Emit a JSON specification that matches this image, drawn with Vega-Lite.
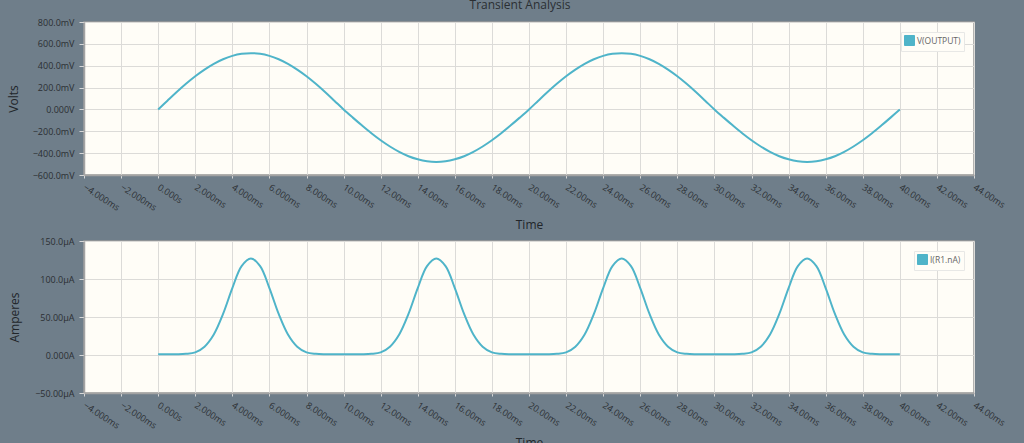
{
  "$schema": "https://vega.github.io/schema/vega-lite/v6.json",
  "autosize": {"type": "none"},
  "padding": {"left": 84, "top": 22, "right": 940, "bottom": 421},
  "background": "#6f7e8a",
  "bounds": "flush",
  "spacing": 66,
  "config": {
    "font": "Open Sans",
    "view": {"fill": "#fffdf7", "stroke": "#9a9a9a", "strokeWidth": 1.5},
    "axis": {
      "labelFont": "Open Sans",
      "labelFontSize": 9,
      "labelColor": "#2b2f33",
      "titleFont": "Open Sans",
      "titleFontSize": 12,
      "titleFontWeight": "normal",
      "titleColor": "#22262a",
      "gridColor": "#dcdbd8",
      "gridOpacity": 1,
      "gridWidth": 1,
      "domainColor": "#a3a3a3",
      "domainWidth": 1.5,
      "tickColor": "#d8d8d8"
    },
    "legend": {
      "orient": "top-right",
      "offset": 10,
      "title": null,
      "fillColor": "#fffdf7",
      "strokeColor": "#e8e8e6",
      "padding": 3,
      "symbolType": "square",
      "symbolSize": 100,
      "symbolFillColor": "#4fb4c9",
      "symbolStrokeColor": "#dddddd",
      "symbolStrokeWidth": 1,
      "symbolOpacity": 1,
      "labelFont": "Open Sans",
      "labelFontSize": 8.5,
      "labelColor": "#666666",
      "labelOffset": 2
    }
  },
  "datasets": {
    "voltage": [
      {"t": 0, "v": 0, "s": "V(OUTPUT)"}, {"t": 0.5, "v": 80, "s": "V(OUTPUT)"}, {"t": 1, "v": 159, "s": "V(OUTPUT)"}, {"t": 1.5, "v": 234, "s": "V(OUTPUT)"}, {"t": 2, "v": 303, "s": "V(OUTPUT)"}, {"t": 2.5, "v": 364, "s": "V(OUTPUT)"}, {"t": 3, "v": 417, "s": "V(OUTPUT)"}, {"t": 3.5, "v": 459, "s": "V(OUTPUT)"}, {"t": 4, "v": 490, "s": "V(OUTPUT)"}, {"t": 4.5, "v": 509, "s": "V(OUTPUT)"},
      {"t": 5, "v": 515, "s": "V(OUTPUT)"}, {"t": 5.5, "v": 509, "s": "V(OUTPUT)"}, {"t": 6, "v": 490, "s": "V(OUTPUT)"}, {"t": 6.5, "v": 459, "s": "V(OUTPUT)"}, {"t": 7, "v": 417, "s": "V(OUTPUT)"}, {"t": 7.5, "v": 364, "s": "V(OUTPUT)"}, {"t": 8, "v": 303, "s": "V(OUTPUT)"}, {"t": 8.5, "v": 234, "s": "V(OUTPUT)"}, {"t": 9, "v": 159, "s": "V(OUTPUT)"}, {"t": 9.5, "v": 80, "s": "V(OUTPUT)"},
      {"t": 10, "v": 0, "s": "V(OUTPUT)"}, {"t": 10.5, "v": -75, "s": "V(OUTPUT)"}, {"t": 11, "v": -148, "s": "V(OUTPUT)"}, {"t": 11.5, "v": -218, "s": "V(OUTPUT)"}, {"t": 12, "v": -282, "s": "V(OUTPUT)"}, {"t": 12.5, "v": -339, "s": "V(OUTPUT)"}, {"t": 13, "v": -388, "s": "V(OUTPUT)"}, {"t": 13.5, "v": -428, "s": "V(OUTPUT)"}, {"t": 14, "v": -456, "s": "V(OUTPUT)"}, {"t": 14.5, "v": -474, "s": "V(OUTPUT)"},
      {"t": 15, "v": -480, "s": "V(OUTPUT)"}, {"t": 15.5, "v": -474, "s": "V(OUTPUT)"}, {"t": 16, "v": -456, "s": "V(OUTPUT)"}, {"t": 16.5, "v": -428, "s": "V(OUTPUT)"}, {"t": 17, "v": -388, "s": "V(OUTPUT)"}, {"t": 17.5, "v": -339, "s": "V(OUTPUT)"}, {"t": 18, "v": -282, "s": "V(OUTPUT)"}, {"t": 18.5, "v": -218, "s": "V(OUTPUT)"}, {"t": 19, "v": -148, "s": "V(OUTPUT)"}, {"t": 19.5, "v": -75, "s": "V(OUTPUT)"},
      {"t": 20, "v": 0, "s": "V(OUTPUT)"}, {"t": 20.5, "v": 80, "s": "V(OUTPUT)"}, {"t": 21, "v": 159, "s": "V(OUTPUT)"}, {"t": 21.5, "v": 234, "s": "V(OUTPUT)"}, {"t": 22, "v": 303, "s": "V(OUTPUT)"}, {"t": 22.5, "v": 364, "s": "V(OUTPUT)"}, {"t": 23, "v": 417, "s": "V(OUTPUT)"}, {"t": 23.5, "v": 459, "s": "V(OUTPUT)"}, {"t": 24, "v": 490, "s": "V(OUTPUT)"}, {"t": 24.5, "v": 509, "s": "V(OUTPUT)"},
      {"t": 25, "v": 515, "s": "V(OUTPUT)"}, {"t": 25.5, "v": 509, "s": "V(OUTPUT)"}, {"t": 26, "v": 490, "s": "V(OUTPUT)"}, {"t": 26.5, "v": 459, "s": "V(OUTPUT)"}, {"t": 27, "v": 417, "s": "V(OUTPUT)"}, {"t": 27.5, "v": 364, "s": "V(OUTPUT)"}, {"t": 28, "v": 303, "s": "V(OUTPUT)"}, {"t": 28.5, "v": 234, "s": "V(OUTPUT)"}, {"t": 29, "v": 159, "s": "V(OUTPUT)"}, {"t": 29.5, "v": 80, "s": "V(OUTPUT)"},
      {"t": 30, "v": 0, "s": "V(OUTPUT)"}, {"t": 30.5, "v": -75, "s": "V(OUTPUT)"}, {"t": 31, "v": -148, "s": "V(OUTPUT)"}, {"t": 31.5, "v": -218, "s": "V(OUTPUT)"}, {"t": 32, "v": -282, "s": "V(OUTPUT)"}, {"t": 32.5, "v": -339, "s": "V(OUTPUT)"}, {"t": 33, "v": -388, "s": "V(OUTPUT)"}, {"t": 33.5, "v": -428, "s": "V(OUTPUT)"}, {"t": 34, "v": -456, "s": "V(OUTPUT)"}, {"t": 34.5, "v": -474, "s": "V(OUTPUT)"},
      {"t": 35, "v": -480, "s": "V(OUTPUT)"}, {"t": 35.5, "v": -474, "s": "V(OUTPUT)"}, {"t": 36, "v": -456, "s": "V(OUTPUT)"}, {"t": 36.5, "v": -428, "s": "V(OUTPUT)"}, {"t": 37, "v": -388, "s": "V(OUTPUT)"}, {"t": 37.5, "v": -339, "s": "V(OUTPUT)"}, {"t": 38, "v": -282, "s": "V(OUTPUT)"}, {"t": 38.5, "v": -218, "s": "V(OUTPUT)"}, {"t": 39, "v": -148, "s": "V(OUTPUT)"}, {"t": 39.5, "v": -75, "s": "V(OUTPUT)"},
      {"t": 40, "v": 0, "s": "V(OUTPUT)"}
    ],
    "current": [
      {"t": 0, "i": 1, "s": "I(R1.nA)"}, {"t": 0.5, "i": 1, "s": "I(R1.nA)"}, {"t": 1, "i": 1, "s": "I(R1.nA)"}, {"t": 1.5, "i": 1.5, "s": "I(R1.nA)"}, {"t": 2, "i": 3.5, "s": "I(R1.nA)"}, {"t": 2.5, "i": 11, "s": "I(R1.nA)"}, {"t": 3, "i": 27, "s": "I(R1.nA)"}, {"t": 3.5, "i": 54, "s": "I(R1.nA)"}, {"t": 4, "i": 88, "s": "I(R1.nA)"}, {"t": 4.5, "i": 117, "s": "I(R1.nA)"},
      {"t": 5, "i": 127, "s": "I(R1.nA)"}, {"t": 5.5, "i": 117, "s": "I(R1.nA)"}, {"t": 6, "i": 88, "s": "I(R1.nA)"}, {"t": 6.5, "i": 54, "s": "I(R1.nA)"}, {"t": 7, "i": 27, "s": "I(R1.nA)"}, {"t": 7.5, "i": 11, "s": "I(R1.nA)"}, {"t": 8, "i": 3.5, "s": "I(R1.nA)"}, {"t": 8.5, "i": 1.5, "s": "I(R1.nA)"}, {"t": 9, "i": 1, "s": "I(R1.nA)"}, {"t": 9.5, "i": 1, "s": "I(R1.nA)"},
      {"t": 10, "i": 1, "s": "I(R1.nA)"}, {"t": 10.5, "i": 1, "s": "I(R1.nA)"}, {"t": 11, "i": 1, "s": "I(R1.nA)"}, {"t": 11.5, "i": 1.5, "s": "I(R1.nA)"}, {"t": 12, "i": 3.5, "s": "I(R1.nA)"}, {"t": 12.5, "i": 11, "s": "I(R1.nA)"}, {"t": 13, "i": 27, "s": "I(R1.nA)"}, {"t": 13.5, "i": 54, "s": "I(R1.nA)"}, {"t": 14, "i": 88, "s": "I(R1.nA)"}, {"t": 14.5, "i": 117, "s": "I(R1.nA)"},
      {"t": 15, "i": 127, "s": "I(R1.nA)"}, {"t": 15.5, "i": 117, "s": "I(R1.nA)"}, {"t": 16, "i": 88, "s": "I(R1.nA)"}, {"t": 16.5, "i": 54, "s": "I(R1.nA)"}, {"t": 17, "i": 27, "s": "I(R1.nA)"}, {"t": 17.5, "i": 11, "s": "I(R1.nA)"}, {"t": 18, "i": 3.5, "s": "I(R1.nA)"}, {"t": 18.5, "i": 1.5, "s": "I(R1.nA)"}, {"t": 19, "i": 1, "s": "I(R1.nA)"}, {"t": 19.5, "i": 1, "s": "I(R1.nA)"},
      {"t": 20, "i": 1, "s": "I(R1.nA)"}, {"t": 20.5, "i": 1, "s": "I(R1.nA)"}, {"t": 21, "i": 1, "s": "I(R1.nA)"}, {"t": 21.5, "i": 1.5, "s": "I(R1.nA)"}, {"t": 22, "i": 3.5, "s": "I(R1.nA)"}, {"t": 22.5, "i": 11, "s": "I(R1.nA)"}, {"t": 23, "i": 27, "s": "I(R1.nA)"}, {"t": 23.5, "i": 54, "s": "I(R1.nA)"}, {"t": 24, "i": 88, "s": "I(R1.nA)"}, {"t": 24.5, "i": 117, "s": "I(R1.nA)"},
      {"t": 25, "i": 127, "s": "I(R1.nA)"}, {"t": 25.5, "i": 117, "s": "I(R1.nA)"}, {"t": 26, "i": 88, "s": "I(R1.nA)"}, {"t": 26.5, "i": 54, "s": "I(R1.nA)"}, {"t": 27, "i": 27, "s": "I(R1.nA)"}, {"t": 27.5, "i": 11, "s": "I(R1.nA)"}, {"t": 28, "i": 3.5, "s": "I(R1.nA)"}, {"t": 28.5, "i": 1.5, "s": "I(R1.nA)"}, {"t": 29, "i": 1, "s": "I(R1.nA)"}, {"t": 29.5, "i": 1, "s": "I(R1.nA)"},
      {"t": 30, "i": 1, "s": "I(R1.nA)"}, {"t": 30.5, "i": 1, "s": "I(R1.nA)"}, {"t": 31, "i": 1, "s": "I(R1.nA)"}, {"t": 31.5, "i": 1.5, "s": "I(R1.nA)"}, {"t": 32, "i": 3.5, "s": "I(R1.nA)"}, {"t": 32.5, "i": 11, "s": "I(R1.nA)"}, {"t": 33, "i": 27, "s": "I(R1.nA)"}, {"t": 33.5, "i": 54, "s": "I(R1.nA)"}, {"t": 34, "i": 88, "s": "I(R1.nA)"}, {"t": 34.5, "i": 117, "s": "I(R1.nA)"},
      {"t": 35, "i": 127, "s": "I(R1.nA)"}, {"t": 35.5, "i": 117, "s": "I(R1.nA)"}, {"t": 36, "i": 88, "s": "I(R1.nA)"}, {"t": 36.5, "i": 54, "s": "I(R1.nA)"}, {"t": 37, "i": 27, "s": "I(R1.nA)"}, {"t": 37.5, "i": 11, "s": "I(R1.nA)"}, {"t": 38, "i": 3.5, "s": "I(R1.nA)"}, {"t": 38.5, "i": 1.5, "s": "I(R1.nA)"}, {"t": 39, "i": 1, "s": "I(R1.nA)"}, {"t": 39.5, "i": 1, "s": "I(R1.nA)"},
      {"t": 40, "i": 1, "s": "I(R1.nA)"}
    ]
  },
  "vconcat": [
    {
      "title": {"text": "Transient Analysis", "anchor": "middle", "font": "Open Sans", "fontSize": 12, "fontWeight": "normal", "color": "#2b2f33", "offset": 6, "dx": -9},
      "width": 890,
      "height": 153,
      "data": {"name": "voltage"},
      "mark": {"type": "line", "strokeWidth": 2, "interpolate": "catmull-rom"},
      "encoding": {
        "x": {
          "field": "t", "type": "quantitative", "title": "Time",
          "scale": {"domain": [-4, 44], "nice": false, "zero": false},
          "axis": {
            "values": [-4, -2, 0, 2, 4, 6, 8, 10, 12, 14, 16, 18, 20, 22, 24, 26, 28, 30, 32, 34, 36, 38, 40, 42, 44],
            "tickSize": 3,
            "labelAngle": 33, "labelAlign": "left", "labelBaseline": "middle", "labelPadding": 8, "labelOverlap": false, "labelFlush": false,
            "labelExpr": "datum.value === 0 ? '0.000s' : (abs(datum.value) < 10 ? format(datum.value, '.3f') : format(datum.value, '.2f')) + 'ms'",
            "titlePadding": 7
          }
        },
        "y": {
          "field": "v", "type": "quantitative", "title": "Volts",
          "scale": {"domain": [-600, 800], "nice": false, "zero": false},
          "axis": {
            "values": [-600, -400, -200, 0, 200, 400, 600, 800],
            "tickSize": 5,
            "labelOverlap": false, "labelFlush": false, "labelPadding": 5,
            "labelExpr": "datum.value === 0 ? '0.000V' : format(datum.value, '.1f') + 'mV'",
            "titlePadding": 12
          }
        },
        "color": {"field": "s", "type": "nominal", "scale": {"range": ["#4fb4c9"]}}
      }
    },
    {
      "width": 890,
      "height": 152,
      "data": {"name": "current"},
      "mark": {"type": "line", "strokeWidth": 2, "interpolate": "catmull-rom"},
      "encoding": {
        "x": {
          "field": "t", "type": "quantitative", "title": "Time",
          "scale": {"domain": [-4, 44], "nice": false, "zero": false},
          "axis": {
            "values": [-4, -2, 0, 2, 4, 6, 8, 10, 12, 14, 16, 18, 20, 22, 24, 26, 28, 30, 32, 34, 36, 38, 40, 42, 44],
            "tickSize": 3,
            "labelAngle": 33, "labelAlign": "left", "labelBaseline": "middle", "labelPadding": 8, "labelOverlap": false, "labelFlush": false,
            "labelExpr": "datum.value === 0 ? '0.000s' : (abs(datum.value) < 10 ? format(datum.value, '.3f') : format(datum.value, '.2f')) + 'ms'",
            "titlePadding": 7
          }
        },
        "y": {
          "field": "i", "type": "quantitative", "title": "Amperes",
          "scale": {"domain": [-50, 150], "nice": false, "zero": false},
          "axis": {
            "values": [-50, 0, 50, 100, 150],
            "tickSize": 5,
            "labelOverlap": false, "labelFlush": false, "labelPadding": 5,
            "labelExpr": "datum.value === 0 ? '0.000A' : (abs(datum.value) < 100 ? format(datum.value, '.2f') : format(datum.value, '.1f')) + 'µA'",
            "titlePadding": 13
          }
        },
        "color": {"field": "s", "type": "nominal", "scale": {"range": ["#4fb4c9"]}}
      }
    }
  ],
  "resolve": {"scale": {"color": "independent"}}
}
